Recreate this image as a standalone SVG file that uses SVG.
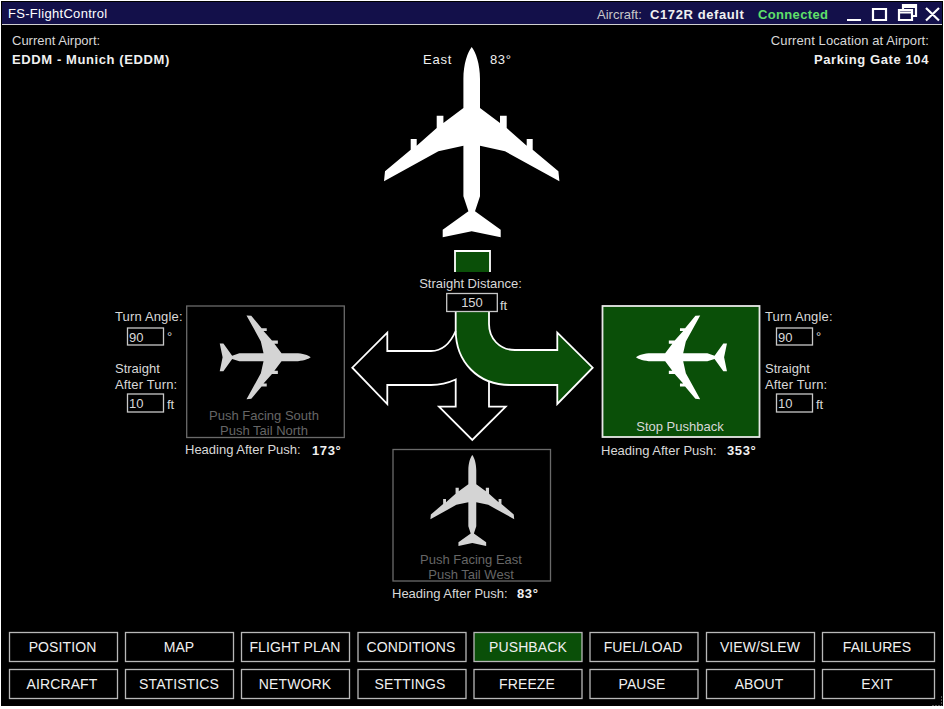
<svg xmlns="http://www.w3.org/2000/svg" width="944" height="709" viewBox="0 0 944 709">
<style>
text{font-family:"Liberation Sans",Arial,sans-serif;font-size:13px;fill:#d8d8d8}
.b{font-weight:bold;fill:#f0f0f0;letter-spacing:.6px}
.m{text-anchor:middle}
.e{text-anchor:end}
.w{letter-spacing:.15px}
.btn rect{fill:#000;stroke:#b8b8b8;stroke-width:1.3}
.btn text{font-size:14px;text-anchor:middle;fill:#f0f0f0;letter-spacing:.1px}
.inp{fill:#000;stroke:#c8c8c8;stroke-width:1.3}
.fr{fill:none;stroke:#6a6a6a;stroke-width:1.3}
.ar{fill:none;stroke:#fff;stroke-width:1.8}
.dim{fill:#666}
</style>
<defs>
<path id="plane" d="M0,0C-4,5 -8.3,17 -8.3,32L-8.3,61L-28.3,76L-28.3,68.7L-35,68.7L-35,81L-55,98.7L-55,92L-61,92L-61,102.7L-86.7,124.3L-87.7,134.3L-33.3,104.3L-8.3,98.7L-8.3,149.3L-3.3,164.3L-29,182.7L-29,190.3L0,184.3L29,190.3L29,182.7L3.3,164.3L8.3,149.3L8.3,98.7L33.3,104.3L87.7,134.3L86.7,124.3L61,102.7L61,92L55,92L55,98.7L35,81L35,68.7L28.3,68.7L28.3,76L8.3,61L8.3,32C8.3,17 4,5 0,0Z"/>
</defs>
<rect width="944" height="709" fill="#fff"/>
<rect x="1" y="1" width="942" height="705" fill="#000"/>
<g id="title-bar">
<rect x="2" y="2" width="940" height="22" fill="#13104a"/>
<rect x="2" y="24" width="940" height="1" fill="#d0d0d0"/>
<text x="8" y="18" style="fill:#fff;letter-spacing:.3px">FS-FlightControl</text>
<text x="597" y="19" style="fill:#c8c8c8">Aircraft:</text>
<text x="650" y="19" class="b">C172R default</text>
<text x="758" y="19" style="fill:#5fe06a;font-weight:bold;letter-spacing:.35px">Connected</text>
<path d="M847,20H861M873,9H886V20H873ZM899,10H912V20H899ZM899,12.500H912M903,9V5H916V16H912M903,7H916M926,8L939,20.500M939,8L926,20.500" fill="none" stroke="#fff" stroke-width="2.200"/>
</g>
<g id="airport-info">
<text x="12" y="45">Current Airport:</text>
<text x="12" y="64" class="b">EDDM - Munich (EDDM)</text>
</g>
<g id="location-info">
<text x="929" y="45" class="e" style="letter-spacing:.1px">Current Location at Airport:</text>
<text x="929" y="64" class="e b">Parking Gate 104</text>
</g>
<g id="current-heading">
<text x="423" y="64" style="letter-spacing:.8px;fill:#f0f0f0">East</text>
<text x="490" y="64" style="letter-spacing:.6px;fill:#f0f0f0">83°</text>
<use href="#plane" transform="translate(471.700,47)" fill="#fff"/>
</g>
<g id="connectors">
<path d="M455.700,311V330C455.700,362 478,385 510,385H557.300V404L592.700,367.700L557.300,332.700V350H515C499,350 489,338 489,324V311Z" fill="#0a4f08"/>
<rect x="455" y="251" width="35" height="21" fill="#0a4f08"/>
<path class="ar" d="M455,272V251H490V272"/>
<path class="ar" d="M455.700,311V330C455.700,362 478,385 510,385H557.300V404L592.700,367.700L557.300,332.700V350H515C499,350 489,338 489,324V311"/>
<path class="ar" d="M455.700,331C450,344 442,351 431,351H387.300V332.700L352.300,367.700L387.300,404V385H431C440,385 448,383 455.700,379.500V406.700H439L472.300,440L505.700,406.700H489V381.500"/>
</g>
<g id="straight-distance">
<text x="470.500" y="288" class="m">Straight Distance:</text>
<rect class="inp" x="446.700" y="293.500" width="50.600" height="18"/>
<text x="472" y="307" class="m">150</text>
<text x="500" y="310">ft</text>
</g>
<g id="push-left">
<rect class="fr" x="186.700" y="306" width="157.600" height="131.500"/>
<use href="#plane" transform="translate(310.700,357.300) rotate(90) scale(.478)" fill="#d4d4d4"/>
<text class="m dim" x="264" y="420">Push Facing South</text>
<text class="m dim" x="264" y="435">Push Tail North</text>
<text x="185" y="454">Heading After Push:</text>
<text x="312" y="455" class="b">173°</text>
</g>
<g id="left-settings">
<text x="115" y="321" class="w">Turn Angle:</text>
<rect class="inp" x="127.500" y="328" width="36" height="17"/>
<text x="129" y="342">90</text>
<text x="167" y="341">°</text>
<text x="115" y="373">Straight</text>
<text x="115" y="389" class="w">After Turn:</text>
<rect class="inp" x="127.500" y="394" width="36" height="18"/>
<text x="129" y="408">10</text>
<text x="167" y="409">ft</text>
</g>
<g id="push-right">
<rect x="602.500" y="306" width="157" height="131" fill="#0a4f08" stroke="#e8e8e8" stroke-width="1.800"/>
<use href="#plane" transform="translate(636,357.300) rotate(-90) scale(.478)" fill="#fff"/>
<text class="m" x="680" y="431">Stop Pushback</text>
<text x="601" y="455">Heading After Push:</text>
<text x="727" y="455" class="b">353°</text>
</g>
<g id="right-settings">
<text x="765" y="321" class="w">Turn Angle:</text>
<rect class="inp" x="776.500" y="328" width="36" height="17"/>
<text x="778" y="342">90</text>
<text x="816" y="341">°</text>
<text x="765" y="373">Straight</text>
<text x="765" y="389" class="w">After Turn:</text>
<rect class="inp" x="776.500" y="394" width="36" height="18"/>
<text x="778" y="408">10</text>
<text x="816" y="409">ft</text>
</g>
<g id="push-down">
<rect class="fr" x="393" y="449.500" width="157.500" height="131.500"/>
<use href="#plane" transform="translate(472.300,455) scale(.478)" fill="#d4d4d4"/>
<text class="m dim" x="471" y="564">Push Facing East</text>
<text class="m dim" x="471" y="579">Push Tail West</text>
<text x="392" y="598">Heading After Push:</text>
<text x="517" y="598" class="b">83°</text>
</g>
<g id="btn-position" class="btn"><rect x="9.500" y="632.500" width="108" height="29"/><text x="62.500" y="652">POSITION</text></g>
<g id="btn-map" class="btn"><rect x="125.500" y="632.500" width="108" height="29"/><text x="179" y="652">MAP</text></g>
<g id="btn-flight-plan" class="btn"><rect x="241.500" y="632.500" width="108" height="29"/><text x="295" y="652">FLIGHT PLAN</text></g>
<g id="btn-conditions" class="btn"><rect x="358" y="632.500" width="108" height="29"/><text x="411" y="652">CONDITIONS</text></g>
<g id="btn-pushback" class="btn"><rect x="474" y="632.500" width="108" height="29" style="fill:#0a4f08"/><text x="528" y="652">PUSHBACK</text></g>
<g id="btn-fuel" class="btn"><rect x="590" y="632.500" width="108" height="29"/><text x="643" y="652">FUEL/LOAD</text></g>
<g id="btn-view" class="btn"><rect x="706.500" y="632.500" width="108" height="29"/><text x="760" y="652">VIEW/SLEW</text></g>
<g id="btn-failures" class="btn"><rect x="822.500" y="632.500" width="112" height="29"/><text x="877" y="652">FAILURES</text></g>
<g id="btn-aircraft" class="btn"><rect x="9.500" y="669.500" width="108" height="29"/><text x="62" y="689">AIRCRAFT</text></g>
<g id="btn-statistics" class="btn"><rect x="125.500" y="669.500" width="108" height="29"/><text x="179" y="689">STATISTICS</text></g>
<g id="btn-network" class="btn"><rect x="241.500" y="669.500" width="108" height="29"/><text x="295" y="689">NETWORK</text></g>
<g id="btn-settings" class="btn"><rect x="358" y="669.500" width="108" height="29"/><text x="410" y="689">SETTINGS</text></g>
<g id="btn-freeze" class="btn"><rect x="474" y="669.500" width="108" height="29"/><text x="527" y="689">FREEZE</text></g>
<g id="btn-pause" class="btn"><rect x="590" y="669.500" width="108" height="29"/><text x="642" y="689">PAUSE</text></g>
<g id="btn-about" class="btn"><rect x="706.500" y="669.500" width="108" height="29"/><text x="759" y="689">ABOUT</text></g>
<g id="btn-exit" class="btn"><rect x="822.500" y="669.500" width="112" height="29"/><text x="877" y="689">EXIT</text></g>
<path id="grip" d="M932,705.500H942M941.500,696V706" fill="none" stroke="#555" stroke-width="1" stroke-dasharray="2 1"/>
</svg>
